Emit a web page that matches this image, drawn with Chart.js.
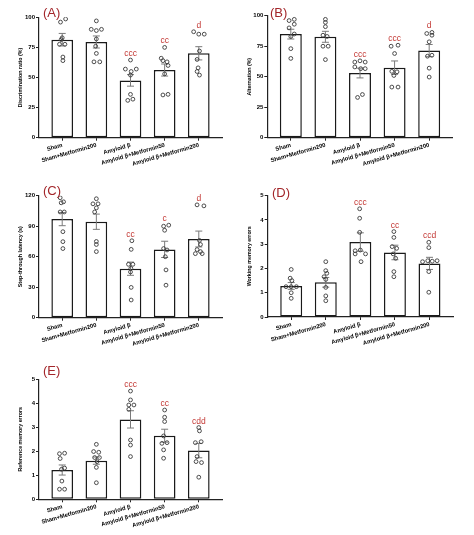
<!DOCTYPE html>
<html><head><meta charset="utf-8">
<script src="https://cdn.jsdelivr.net/npm/chart.js@4.4.0/dist/chart.umd.min.js"></script>
<style>
html,body{margin:0;padding:0;background:#fff;}
body{width:474px;height:535px;position:relative;overflow:hidden;}
canvas{position:absolute;}
</style></head><body>
<canvas id="cA" width="237" height="180" style="left:0;top:0;width:237px;height:180px"></canvas>
<canvas id="cB" width="237" height="180" style="left:237px;top:0;width:237px;height:180px"></canvas>
<canvas id="cC" width="237" height="180" style="left:0;top:180px;width:237px;height:180px"></canvas>
<canvas id="cD" width="237" height="180" style="left:237px;top:180px;width:237px;height:180px"></canvas>
<canvas id="cE" width="237" height="175" style="left:0;top:360px;width:237px;height:175px"></canvas>
<script>
// ---------- data ----------
const categories = ['Sham', 'Sham+Metformin200', 'Amyloid β', 'Amyloid β+Metformin50', 'Amyloid β+Metformin200'];

// (A) Discrimination ratio
const meanA = [81.4, 79.5, 47.6, 56.2, 70.1];
const semA = [5.2, 5.0, 4.8, 5.0, 5.5];
const ptsA = [
  [98.6, 96, 83, 81.5, 77.6, 77.6, 67, 64],
  [97, 90, 89, 90, 82, 76, 70, 63, 63],
  [64.5, 57, 55, 57, 52, 36, 31, 32],
  [75, 66, 63, 64, 60, 53, 35.5, 36],
  [88, 86, 86, 72, 65, 58, 55, 52]
];
const jitA = [
  [0.1, -0.05, 0, -0.03, -0.08, 0.08, 0.02, 0.02],
  [0, -0.15, 0, 0.15, 0, -0.02, 0, -0.07, 0.1],
  [0, -0.15, 0.02, 0.17, 0, 0, -0.08, 0.07],
  [0, -0.1, 0.07, -0.05, 0.1, 0, -0.05, 0.1],
  [-0.15, 0, 0.16, 0.02, -0.05, -0.02, -0.05, 0.02]
];
const sigA = ['', '', 'ccc', 'cc', 'd'];
const ticksA = [0, 25, 50, 75, 100];

// (B) Alternation
const meanB = [84.9, 82.7, 53.0, 57.4, 71.4];
const semB = [4.0, 4.5, 4.0, 5.5, 5.0];
const ptsB = [
  [97, 96, 93, 90, 85, 83, 73, 65],
  [97, 94.5, 91, 84, 83, 75, 75, 64],
  [62, 63, 62, 58, 56.6, 56.6, 33, 35.4],
  [75, 75.8, 69, 54.4, 54, 51, 41.5, 41.5],
  [85.4, 86.3, 84, 78.6, 66.8, 67.6, 57, 49.7]
];
const jitB = [
  [0.1, -0.05, 0.1, -0.05, 0.1, 0, 0, 0],
  [0, 0, 0, -0.07, 0.05, -0.07, 0.08, 0],
  [-0.15, 0, 0.15, -0.15, 0.02, 0.15, -0.07, 0.07],
  [-0.1, 0.1, 0, -0.08, 0.07, -0.02, -0.08, 0.1],
  [-0.07, 0.08, 0.08, 0, -0.05, 0.08, 0, 0]
];
const sigB = ['', '', 'ccc', 'ccc', 'd'];
const ticksB = [0, 25, 50, 75, 100];

// (C) Step-through latency
const meanC = [97, 94.4, 48.2, 67.2, 77.4];
const semC = [6.5, 7.5, 6.5, 8.0, 7.8];
const ptsC = [
  [118, 114, 113, 104, 104, 84.6, 74.8, 68],
  [117, 112, 112, 108, 104, 75, 72, 65],
  [75.7, 67.2, 52.5, 52.5, 48.5, 45, 29.8, 17.4],
  [90, 91, 86, 68, 66.6, 60, 47, 32],
  [111, 110, 76, 72, 67, 65, 63, 63]
];
const jitC = [
  [-0.06, 0.04, -0.03, -0.06, 0.06, 0.02, 0.02, 0.02],
  [0, -0.1, 0.05, 0, -0.05, 0, 0, 0],
  [0.04, 0.02, -0.06, 0.07, 0.01, 0, 0.02, 0.02],
  [-0.03, 0.12, 0, -0.03, 0.07, 0.02, 0.04, 0.04],
  [-0.05, 0.15, 0.02, 0.05, -0.05, 0.05, -0.1, 0.1]
];
const sigC = ['', '', 'cc', 'c', 'd'];
const ticksC = [0, 30, 60, 90, 120];

// (D) Working memory errors
const meanD = [1.28, 1.43, 3.09, 2.66, 2.21];
const semD = [0.14, 0.2, 0.38, 0.3, 0.25];
const ptsD = [
  [1.96, 1.6, 1.5, 1.25, 1.25, 1.25, 1.0, 0.77],
  [2.28, 1.91, 1.8, 1.66, 1.55, 1.22, 0.87, 0.67],
  [4.46, 4.07, 3.49, 2.73, 2.76, 2.6, 2.6, 2.28],
  [3.52, 3.28, 2.9, 2.83, 2.6, 2.42, 1.87, 1.66],
  [3.08, 2.86, 2.28, 2.32, 2.3, 2.32, 1.87, 1.02]
];
const jitD = [
  [0, -0.03, 0.02, -0.15, 0, 0.15, 0, 0],
  [0, 0, 0.03, -0.05, 0, 0, 0, 0],
  [-0.02, -0.02, -0.02, -0.15, 0, 0.15, -0.15, 0.02],
  [-0.03, -0.03, -0.08, 0.05, -0.05, 0.02, -0.03, -0.03],
  [-0.02, -0.02, -0.2, -0.05, 0.08, 0.22, -0.02, -0.02]
];
const sigD = ['', '', 'ccc', 'cc', 'ccd'];
const ticksD = [0, 1, 2, 3, 4, 5];

// (E) Reference memory errors
const meanE = [1.22, 1.61, 3.33, 2.65, 2.03];
const semE = [0.21, 0.15, 0.36, 0.27, 0.3];
const ptsE = [
  [1.9, 1.92, 1.7, 1.3, 1.25, 0.76, 0.42, 0.42],
  [2.29, 1.99, 1.96, 1.74, 1.74, 1.57, 1.33, 0.69],
  [4.51, 4.14, 3.93, 3.93, 3.75, 2.47, 2.26, 1.78],
  [3.72, 3.42, 3.24, 2.64, 2.33, 2.36, 2.06, 1.71],
  [2.99, 2.85, 2.36, 2.4, 1.78, 1.57, 1.53, 0.92]
];
const jitE = [
  [-0.08, 0.07, -0.06, 0.07, -0.02, -0.01, -0.08, 0.07],
  [0, -0.08, 0.07, -0.05, 0.09, 0.02, 0, 0],
  [0, 0, -0.05, 0.1, -0.05, 0, 0, 0],
  [0, 0, 0, -0.03, -0.08, 0.07, -0.03, -0.03],
  [0, 0.02, -0.1, 0.07, -0.05, -0.08, 0.08, 0]
];
const sigE = ['', '', 'ccc', 'cc', 'cdd'];
const ticksE = [0, 1, 2, 3, 4, 5];

// ---------- drawing ----------
const FONT = "'Liberation Sans', Arial, sans-serif";

const panelPlugin = {
  id: 'panelExtras',
  afterDatasetDraw(chart, args, opts) {
    if (args.meta.type !== 'bar') return;
    const xs = chart.scales.x, ys = chart.scales.y, ctx = chart.ctx;
    ctx.save();
    ctx.strokeStyle = '#7a7a7a';
    ctx.lineWidth = 1;
    opts.mean.forEach((m, i) => {
      const x = xs.getPixelForValue(i);
      const y1 = ys.getPixelForValue(m + opts.sem[i]);
      const y2 = ys.getPixelForValue(m - opts.sem[i]);
      ctx.beginPath();
      ctx.moveTo(x, y1); ctx.lineTo(x, y2);
      ctx.moveTo(x - 3.5, y1); ctx.lineTo(x + 3.5, y1);
      ctx.moveTo(x - 3.5, y2); ctx.lineTo(x + 3.5, y2);
      ctx.stroke();
    });
    ctx.restore();
  },
  afterDatasetsDraw(chart, args, opts) {
    const xs = chart.scales.x, ys = chart.scales.y, ctx = chart.ctx;
    ctx.save();
    ctx.fillStyle = '#c43a36';
    ctx.font = '8.5px ' + FONT;
    ctx.textAlign = 'center';
    ctx.textBaseline = 'alphabetic';
    opts.sig.forEach((s, i) => {
      if (!s) return;
      const top = Math.max(...opts.pts[i]);
      ctx.fillText(s, xs.getPixelForValue(i), ys.getPixelForValue(top) - 4);
    });
    ctx.fillStyle = '#a3262a';
    ctx.font = '13px ' + FONT;
    ctx.textAlign = 'left';
    ctx.textBaseline = 'middle';
    ctx.fillText(opts.label, opts.labelX, opts.labelY);
    ctx.restore();
  }
};

function makePanel(id, cfg) {
  const H = cfg.h;
  const points = cfg.pts.flatMap((arr, i) => arr.map((v, j) => ({ x: i + cfg.jit[i][j], y: v })));
  const bars = cfg.mean.map((v, i) => ({ x: i, y: v }));
  const yMax = cfg.ticks[cfg.ticks.length - 1];
  new Chart(document.getElementById(id), {
    type: 'bar',
    data: {
      datasets: [
        {
          type: 'scatter', data: points, order: 0,
          pointRadius: 1.9, pointBorderWidth: 0.9, pointBorderColor: '#3a3a3a',
          pointBackgroundColor: 'rgba(255,255,255,0)', showLine: false
        },
        {
          type: 'bar', data: bars, order: 1,
          backgroundColor: '#ffffff', borderColor: '#1a1a1a', borderWidth: 1.5,
          borderSkipped: false, barPercentage: 0.635, categoryPercentage: 1
        }
      ]
    },
    options: {
      responsive: false, animation: false,
      layout: { padding: { left: 0, top: cfg.top, right: 237 - cfg.right, bottom: 0 } },
      plugins: {
        legend: { display: false }, tooltip: { enabled: false },
        panelExtras: { mean: cfg.mean, sem: cfg.sem, pts: cfg.pts, sig: cfg.sig,
          label: cfg.label, labelX: cfg.labelX, labelY: cfg.labelY }
      },
      events: [],
      scales: {
        x: {
          type: 'linear', min: -0.68, max: 4.68, offset: false,
          afterBuildTicks: s => { s.ticks = categories.map((c, i) => ({ value: i })); },
          afterFit: s => { s.height = H - cfg.bottom; },
          grid: { display: true, offset: false, drawOnChartArea: false, drawTicks: true, tickLength: 3, color: '#222', lineWidth: 1 },
          border: { display: true, color: '#222', width: 1.2 },
          ticks: {
            autoSkip: false, minRotation: 16, maxRotation: 16, padding: 1,
            color: '#000', font: { family: FONT, size: 5.8, weight: 'bold' },
            callback: v => categories[v] ?? ''
          }
        },
        y: {
          min: 0, max: yMax,
          afterBuildTicks: s => { s.ticks = cfg.ticks.map(v => ({ value: v })); },
          afterFit: s => { s.width = cfg.left; },
          grid: { display: true, drawOnChartArea: false, drawTicks: true, tickLength: 3, color: '#222', lineWidth: 1 },
          border: { display: true, color: '#222', width: 1.2 },
          ticks: { padding: 1, color: '#000', font: { family: FONT, size: 6, weight: 'bold' } },
          title: {
            display: true, text: cfg.title, color: '#000',
            font: { family: FONT, size: 5.3, weight: 'bold' },
            padding: { top: cfg.left - 18 - 3.2, bottom: 0 }
          }
        }
      }
    },
    plugins: [panelPlugin]
  });
}

makePanel('cA', { h: 180, left: 39, right: 222, top: 17.3, bottom: 137.7, label: '(A)', labelX: 43, labelY: 13.3,
  title: 'Discrimination ratio (%)', mean: meanA, sem: semA, pts: ptsA, jit: jitA, sig: sigA, ticks: ticksA });
makePanel('cB', { h: 180, left: 30.3, right: 215.7, top: 15.7, bottom: 137.7, label: '(B)', labelX: 33, labelY: 13.3,
  title: 'Alternation (%)', mean: meanB, sem: semB, pts: ptsB, jit: jitB, sig: sigB, ticks: ticksB });
makePanel('cC', { h: 180, left: 39, right: 222, top: 15.7, bottom: 137.7, label: '(C)', labelX: 43, labelY: 11,
  title: 'Step-through latency (s)', mean: meanC, sem: semC, pts: ptsC, jit: jitC, sig: sigC, ticks: ticksC });
makePanel('cD', { h: 180, left: 30.7, right: 216, top: 15.7, bottom: 137, label: '(D)', labelX: 35, labelY: 13.3,
  title: 'Working memory errors', mean: meanD, sem: semD, pts: ptsD, jit: jitD, sig: sigD, ticks: ticksD });
makePanel('cE', { h: 175, left: 39, right: 222, top: 19.3, bottom: 139.3, label: '(E)', labelX: 43, labelY: 11,
  title: 'Reference memory errors', mean: meanE, sem: semE, pts: ptsE, jit: jitE, sig: sigE, ticks: ticksE });
</script>
</body></html>
